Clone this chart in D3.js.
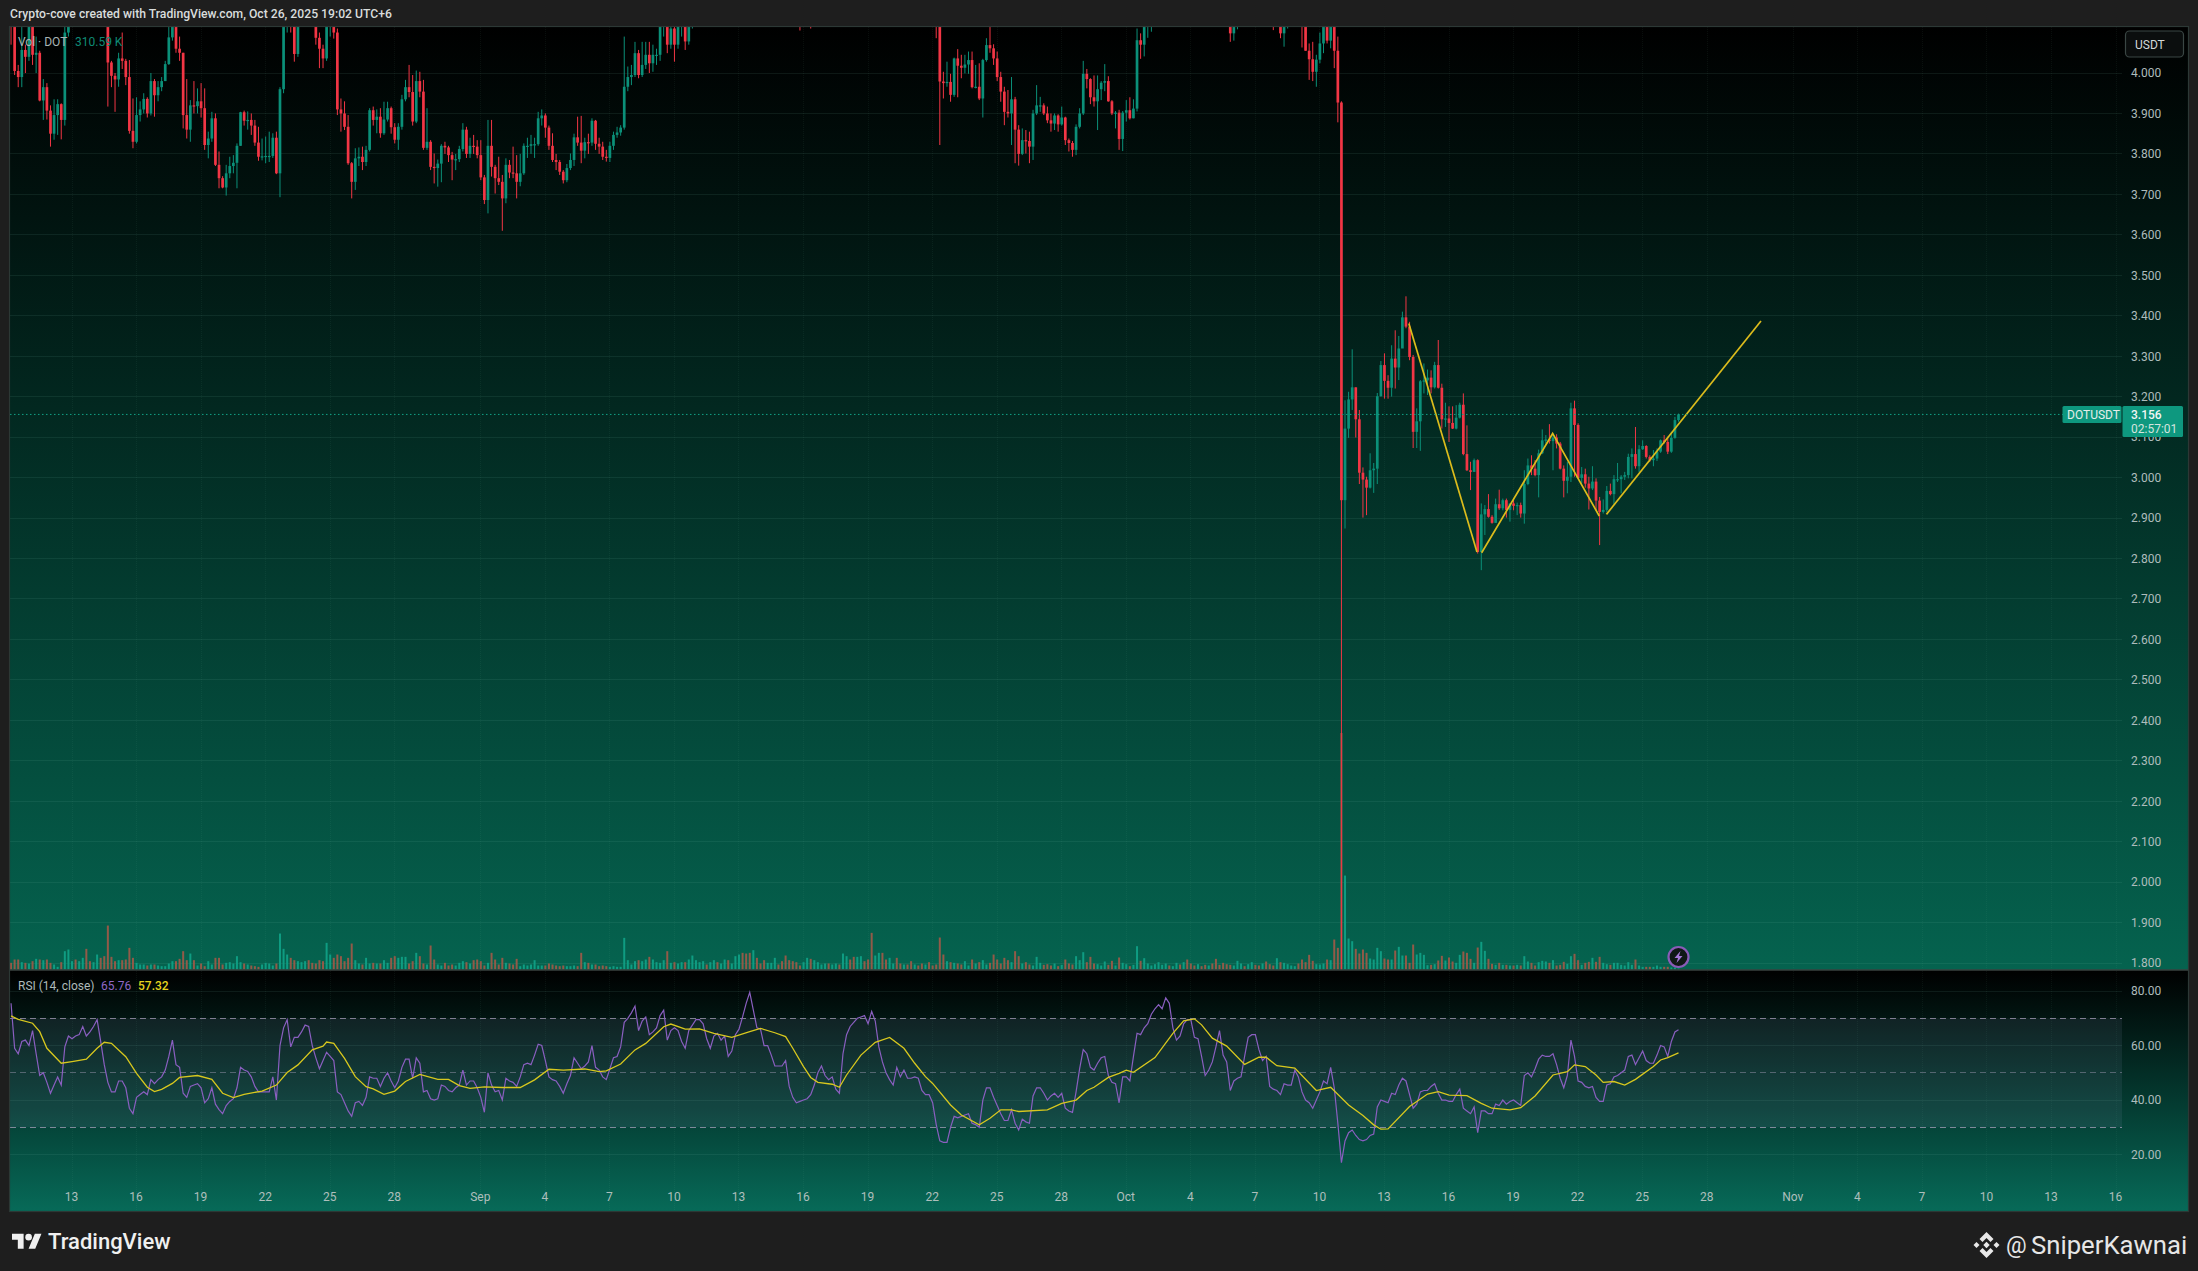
<!DOCTYPE html>
<html><head><meta charset="utf-8">
<script src="https://cdn.jsdelivr.net/npm/d3@7/dist/d3.min.js"></script>
<style>html,body{margin:0;padding:0;background:#1e1e1e;overflow:hidden}svg{display:block}text{font-family:Roboto,"Liberation Sans",sans-serif}</style>
</head><body><svg id="c" width="2198" height="1271"></svg>
<script>
// ---------- DATA ----------
const firstBar = "2025-08-10T06:00:00Z";
const barHours = 4;
const firstOpen = 4.14;
const closes = [
4.13,4.005,3.99,4.057,4.04,4.115,4.045,4.05,3.932,3.965,
3.907,3.85,3.896,3.923,3.884,4.10,4.16,4.19,4.17,4.21,
4.24,4.22,4.19,4.23,4.26,4.2,4.16,4.026,3.993,3.984,
4.036,4.03,3.99,3.857,3.83,3.896,3.91,3.936,3.90,3.98,
3.945,3.965,3.98,4.022,4.088,4.12,4.06,4.05,3.896,3.86,
3.92,3.918,3.93,3.913,3.822,3.838,3.888,3.773,3.74,3.717,
3.752,3.77,3.778,3.82,3.903,3.882,3.884,3.87,3.828,3.793,
3.794,3.795,3.795,3.84,3.752,3.96,4.115,4.14,4.13,4.047,
4.13,4.17,4.2,4.18,4.16,4.087,4.06,4.036,4.115,4.13,
4.10,3.91,3.9,3.867,3.777,3.731,3.789,3.793,3.78,3.81,
3.908,3.884,3.892,3.851,3.885,3.913,3.866,3.835,3.867,3.935,
3.965,3.953,3.88,3.98,3.954,3.815,3.83,3.768,3.765,3.776,
3.82,3.816,3.797,3.786,3.787,3.812,3.86,3.80,3.82,3.818,
3.797,3.742,3.686,3.82,3.768,3.74,3.731,3.69,3.773,3.754,
3.752,3.731,3.752,3.82,3.82,3.824,3.824,3.888,3.895,3.865,
3.82,3.785,3.78,3.756,3.735,3.765,3.785,3.841,3.828,3.808,
3.829,3.828,3.882,3.825,3.818,3.793,3.79,3.82,3.847,3.853,
3.865,3.966,3.99,3.995,4.049,3.995,4.02,4.045,4.024,4.045,
4.045,4.115,4.14,4.07,4.11,4.07,4.13,4.14,4.078,4.125,
4.16,4.19,4.22,4.25,4.23,4.27,4.30,4.28,4.32,4.36,
4.33,4.35,4.38,4.42,4.40,4.37,4.35,4.39,4.36,4.33,
4.30,4.34,4.37,4.4,4.38,4.36,4.32,4.29,4.25,4.2,
4.16,4.18,4.2,4.16,4.2,4.24,4.27,4.3,4.28,4.31,
4.34,4.32,4.36,4.39,4.37,4.34,4.38,4.41,4.39,4.36,
4.33,4.35,4.38,4.35,4.31,4.33,4.36,4.32,4.29,4.31,
4.27,4.24,4.27,4.23,4.2,4.22,4.19,4.17,4.14,3.979,
3.975,3.978,3.946,4.036,4.018,4.013,4.021,4.032,3.965,3.966,
3.937,4.032,4.069,4.061,4.036,3.99,3.954,3.904,3.9,3.935,
3.86,3.80,3.834,3.832,3.818,3.9,3.92,3.92,3.9,3.883,
3.875,3.895,3.873,3.89,3.834,3.827,3.81,3.867,3.9,3.998,
3.985,3.94,3.93,3.96,3.976,3.98,3.93,3.9,3.902,3.837,
3.902,3.908,3.888,3.912,4.081,4.07,4.115,4.16,4.19,4.23,
4.27,4.3,4.34,4.31,4.36,4.39,4.37,4.41,4.38,4.35,
4.31,4.33,4.29,4.26,4.28,4.24,4.21,4.18,4.15,4.13,
4.098,4.14,4.18,4.22,4.2,4.24,4.27,4.25,4.22,4.24,
4.2,4.17,4.15,4.17,4.098,4.14,4.17,4.2,4.21,4.18,
4.12,4.055,4.034,4.003,4.033,4.073,4.115,4.08,4.115,4.055,
3.927,2.944,3.121,3.193,3.223,3.144,3.012,2.995,2.975,3.018,
3.022,3.201,3.278,3.239,3.222,3.294,3.272,3.319,3.396,3.373,
3.298,3.113,3.139,3.238,3.24,3.247,3.223,3.278,3.222,3.144,
3.146,3.135,3.121,3.148,3.18,3.058,3.018,3.014,3.043,2.816,
2.909,2.922,2.903,2.888,2.934,2.924,2.944,2.92,2.936,2.93,
2.932,2.911,2.984,3.03,3.022,3.006,3.06,3.092,3.094,3.09,
3.099,3.084,3.022,2.992,3.002,3.171,3.13,2.999,3.008,2.985,
2.973,2.99,2.943,2.915,2.92,2.967,2.959,2.996,2.996,3.002,
3.006,3.051,3.058,3.028,3.07,3.078,3.051,3.043,3.047,3.064,
3.092,3.088,3.064,3.098,3.142,3.156];
const highs = [
4.17,4.12,4.02,4.12,4.07,4.14,4.12,4.09,4.055,3.985,
3.975,3.92,3.935,3.935,3.925,4.12,4.2,4.22,4.23,4.25,
4.28,4.27,4.25,4.26,4.3,4.27,4.22,4.16,4.03,4.0,
4.05,4.10,4.035,4.032,3.937,3.94,3.93,3.95,3.94,4.0,
3.985,3.98,3.99,4.03,4.12,4.15,4.13,4.09,4.05,3.985,
3.933,3.98,3.962,3.975,3.962,3.855,3.904,3.9,3.806,3.745,
3.773,3.793,3.797,3.826,3.904,3.907,3.905,3.9,3.884,3.867,
3.838,3.843,3.855,3.851,3.855,3.965,4.14,4.2,4.19,4.14,
4.16,4.2,4.24,4.23,4.2,4.18,4.1,4.07,4.13,4.16,
4.14,4.11,3.937,3.93,3.896,3.78,3.814,3.816,3.818,3.82,
3.913,3.917,3.91,3.913,3.929,3.929,3.917,3.876,3.876,3.946,
3.983,4.02,3.995,4.006,4.003,3.983,3.913,3.834,3.801,3.786,
3.824,3.83,3.82,3.805,3.8,3.82,3.876,3.867,3.84,3.847,
3.834,3.834,3.748,3.884,3.884,3.773,3.793,3.748,3.789,3.785,
3.818,3.797,3.8,3.826,3.84,3.847,3.84,3.904,3.91,3.9,
3.87,3.851,3.8,3.785,3.76,3.775,3.801,3.85,3.892,3.894,
3.84,3.85,3.888,3.884,3.84,3.83,3.81,3.83,3.855,3.867,
3.871,4.09,4.016,4.02,4.077,4.057,4.077,4.077,4.077,4.07,
4.06,4.15,4.19,4.16,4.14,4.13,4.16,4.18,4.15,4.15,
4.2,4.22,4.25,4.27,4.26,4.29,4.33,4.31,4.35,4.38,
4.37,4.38,4.4,4.45,4.44,4.41,4.38,4.41,4.4,4.37,
4.34,4.36,4.39,4.42,4.41,4.39,4.37,4.33,4.3,4.26,
4.22,4.21,4.23,4.22,4.23,4.26,4.3,4.32,4.31,4.33,
4.36,4.35,4.38,4.41,4.4,4.38,4.4,4.43,4.42,4.4,
4.37,4.37,4.4,4.39,4.36,4.35,4.38,4.37,4.33,4.33,
4.32,4.28,4.29,4.28,4.25,4.24,4.24,4.21,4.19,4.15,
4.003,4.028,3.998,4.038,4.059,4.045,4.045,4.053,4.053,4.02,
4.024,4.035,4.086,4.14,4.071,4.053,4.003,3.966,3.958,3.99,
3.941,3.871,3.863,3.859,3.855,3.909,3.97,3.941,3.925,3.917,
3.9,3.9,3.898,3.917,3.892,3.838,3.832,3.873,3.913,4.03,
4.01,3.987,3.994,3.994,3.98,4.022,3.992,3.933,3.906,3.909,
3.906,3.933,3.94,3.935,4.11,4.098,4.14,4.2,4.23,4.25,
4.3,4.33,4.37,4.36,4.38,4.42,4.41,4.44,4.42,4.4,
4.37,4.35,4.34,4.31,4.3,4.3,4.26,4.23,4.2,4.17,
4.14,4.18,4.21,4.25,4.25,4.27,4.3,4.29,4.28,4.27,
4.26,4.22,4.19,4.2,4.19,4.17,4.2,4.23,4.25,4.23,
4.19,4.13,4.073,4.077,4.045,4.1,4.14,4.13,4.14,4.13,
4.09,3.93,3.191,3.212,3.317,3.223,3.167,3.025,3.002,3.06,
3.036,3.209,3.288,3.307,3.253,3.327,3.364,3.35,3.41,3.448,
3.385,3.303,3.171,3.241,3.282,3.267,3.265,3.286,3.34,3.232,
3.185,3.176,3.176,3.179,3.185,3.208,3.129,3.039,3.047,3.045,
2.936,2.932,2.959,2.907,2.948,2.97,2.948,2.948,2.936,2.948,
2.938,2.938,3.018,3.047,3.055,3.043,3.069,3.119,3.105,3.132,
3.109,3.107,3.088,3.03,3.039,3.185,3.19,3.134,3.026,3.022,
3.002,3.028,2.998,2.952,2.946,2.979,2.985,3.006,3.036,3.006,
3.014,3.059,3.072,3.125,3.08,3.092,3.08,3.055,3.068,3.072,
3.094,3.105,3.101,3.113,3.15,3.158];
const lows = [
4.07,3.995,3.965,3.965,4.0,4.03,4.02,4.0,3.93,3.884,
3.885,3.818,3.835,3.847,3.836,3.87,4.09,4.14,4.13,4.15,
4.18,4.17,4.14,4.15,4.2,4.16,4.13,3.917,3.965,3.904,
3.966,4.01,3.97,3.85,3.814,3.826,3.88,3.9,3.89,3.895,
3.892,3.93,3.955,3.98,4.02,4.08,4.05,4.03,3.863,3.838,
3.83,3.9,3.9,3.89,3.81,3.789,3.83,3.77,3.715,3.715,
3.697,3.74,3.752,3.715,3.82,3.87,3.86,3.847,3.82,3.783,
3.784,3.777,3.78,3.79,3.75,3.693,3.95,4.1,4.1,4.028,
4.04,4.12,4.15,4.14,4.12,4.07,4.012,4.012,4.03,4.09,
4.085,3.896,3.855,3.859,3.773,3.69,3.711,3.77,3.76,3.77,
3.806,3.87,3.851,3.84,3.847,3.88,3.85,3.826,3.81,3.86,
3.93,3.94,3.87,3.876,3.94,3.81,3.81,3.76,3.727,3.719,
3.73,3.8,3.78,3.735,3.76,3.78,3.806,3.79,3.79,3.8,
3.789,3.735,3.676,3.653,3.744,3.702,3.723,3.61,3.678,3.74,
3.74,3.69,3.72,3.748,3.79,3.8,3.79,3.82,3.87,3.84,
3.81,3.78,3.76,3.748,3.727,3.73,3.76,3.77,3.82,3.777,
3.789,3.8,3.82,3.81,3.8,3.785,3.781,3.78,3.81,3.84,
3.845,3.86,3.955,3.97,3.99,3.987,3.99,4.01,4.0,4.003,
4.02,4.03,4.09,4.049,4.06,4.028,4.06,4.09,4.057,4.07,
4.11,4.14,4.17,4.2,4.21,4.22,4.26,4.26,4.27,4.31,
4.31,4.32,4.33,4.37,4.38,4.35,4.33,4.34,4.34,4.31,
4.27,4.29,4.33,4.36,4.36,4.33,4.3,4.26,4.22,4.17,
4.105,4.14,4.16,4.11,4.15,4.19,4.23,4.26,4.26,4.27,
4.3,4.3,4.31,4.35,4.35,4.32,4.33,4.37,4.37,4.34,
4.31,4.32,4.34,4.33,4.29,4.3,4.32,4.3,4.27,4.28,
4.25,4.22,4.23,4.2,4.18,4.19,4.17,4.15,4.086,3.822,
3.937,3.966,3.929,3.941,3.94,3.987,3.999,3.998,3.962,3.962,
3.933,3.89,4.028,4.05,4.02,3.98,3.929,3.871,3.89,3.822,
3.777,3.771,3.797,3.801,3.777,3.785,3.896,3.904,3.896,3.876,
3.855,3.859,3.855,3.87,3.822,3.806,3.793,3.797,3.863,3.896,
3.962,3.923,3.917,3.859,3.933,3.955,3.929,3.896,3.863,3.81,
3.807,3.88,3.885,3.888,3.905,4.035,4.041,4.087,4.102,4.17,
4.22,4.26,4.29,4.29,4.3,4.35,4.35,4.36,4.35,4.33,
4.29,4.29,4.26,4.24,4.24,4.2,4.18,4.15,4.13,4.12,
4.077,4.08,4.108,4.16,4.17,4.19,4.23,4.22,4.2,4.2,
4.18,4.15,4.106,4.13,4.086,4.065,4.11,4.15,4.17,4.15,
4.063,4.055,3.983,3.98,3.966,4.024,4.049,4.073,4.061,4.012,
3.878,1.3,2.874,3.098,3.167,3.099,2.984,2.901,2.907,2.973,
2.962,2.984,3.2,3.195,3.195,3.2,3.22,3.241,3.364,3.369,
3.29,3.073,3.073,3.066,3.208,3.204,3.208,3.22,3.22,3.121,
3.125,3.088,3.12,3.119,3.146,3.055,3.016,2.969,3.014,2.812,
2.771,2.858,2.901,2.886,2.888,2.92,2.919,2.901,2.891,2.919,
2.907,2.901,2.886,2.981,3.006,3.003,2.951,3.058,3.084,3.084,
3.018,3.072,3.02,2.951,2.961,2.989,3.002,2.998,2.985,2.975,
2.921,2.969,2.919,2.833,2.911,2.915,2.956,2.934,2.989,2.961,
2.994,2.998,2.998,3.022,3.014,3.068,3.047,3.039,3.028,3.041,
3.061,3.084,3.058,3.061,3.096,3.138];
// volume, in units of 100K
const volumes = [
20,30,30,22,20,18,25,32,30,28,
30,20,15,8,22,55,60,25,30,25,
35,62,25,22,45,35,40,132,38,25,
28,28,30,65,35,20,15,15,12,15,
15,12,10,10,18,25,25,32,55,28,
48,28,12,18,10,25,15,35,35,15,
20,22,18,40,22,18,15,12,10,8,
15,20,18,12,18,108,62,45,35,28,
25,22,25,28,20,18,28,25,80,45,
35,45,40,25,35,78,28,18,15,35,
18,20,18,18,28,20,35,40,35,38,
38,18,25,50,40,18,15,72,30,15,
12,20,12,15,12,20,25,22,18,28,
30,25,12,20,50,30,15,35,20,18,
15,32,10,15,12,15,28,12,12,12,
18,15,12,10,12,10,10,12,10,50,
22,20,15,15,10,12,10,8,10,8,
8,95,28,15,25,28,25,30,38,30,
22,20,28,55,20,22,18,22,22,30,
42,28,22,25,15,22,28,22,18,30,
28,18,40,45,50,48,50,58,35,18,
28,20,20,35,15,25,42,28,25,22,
12,22,35,32,28,22,15,18,18,15,
18,15,48,40,30,38,38,40,25,30,
110,42,50,50,30,35,18,35,18,15,
15,25,15,12,18,15,22,12,15,96,
45,25,22,20,18,15,25,12,30,18,
22,28,15,20,45,30,18,35,28,22,
55,40,18,22,15,12,38,20,14,16,
12,18,10,14,30,18,15,40,28,52,
22,38,18,16,12,24,14,26,12,36,
20,16,10,14,70,26,34,18,12,16,
22,14,18,12,10,20,15,22,30,18,
12,16,10,14,12,18,32,14,20,16,
14,12,26,18,10,16,22,14,12,18,
24,16,12,34,22,20,16,12,10,18,
30,22,44,26,16,15,18,30,28,90,
65,710,282,93,85,62,48,60,50,33,
30,65,55,33,30,30,57,68,42,42,
20,75,45,50,44,13,14,16,27,41,
27,36,24,20,44,54,50,32,20,66,
83,56,32,17,14,20,14,14,12,12,
14,12,40,24,20,12,22,26,24,20,
28,12,14,23,17,40,47,28,14,20,
23,35,23,38,20,16,14,20,20,14,
12,22,14,30,12,8,8,8,8,12,
8,8,8,6,6,3];
const rsiValues = [
75.5,59,57,61.5,62,60,65.5,57,49,50,
46.5,42.5,45.5,48.5,45.5,59.5,63.5,62.5,63.5,64,
67,63.5,65,67,69.5,61.5,53,46.5,43,43,
47,47,44.5,37,35,41,42,43,42,47.5,
46,47.5,48.5,51,56,62,53,52,42.5,41,
45,45.5,46,44.5,39,40.5,44.5,38.5,36.5,35,
38,39.5,40.5,44.5,52,51,50.5,48.5,45,43,
43,43,43,48.5,40,60,66.5,69.5,59.5,63,
63,65,67.5,67,60,55.5,51.5,54.5,57.5,56,
54.5,43,42,39,36,34,39,39.5,38,41,
48.5,48,48,45,48,50,47,44.5,47,52,
55,55,48,55.5,53.5,43,43.5,40.5,40,40.5,
45.5,45,43.5,43,44.5,45.5,51,45.5,47,47,
44.5,41,35.5,50,45.5,43,43.5,40,48,47,
46.5,45,48.5,53,53.5,53,56.5,60.5,60,54.5,
48.5,47.5,47,45,42.5,46,49,55.5,53.5,51.5,
52.5,54,60,52,51,48.5,47.5,51.5,55.5,56,
59.5,68.5,70,72,74.5,65.5,69,70.5,64,65,
66.5,71,73,62,65.5,66.5,65.5,61.5,59,65.5,
67.5,69.5,69.5,68,62.5,59,63.5,64.5,62,63.5,
56,58,64,66,70.5,75.5,79.5,73,66.5,66,
60,60,56.5,52.5,52.5,52.5,54.5,45,41,39,
39.5,40,40.5,42,45.5,50,52.5,49,47.5,48.5,
44,42.5,57,64,67,68.5,70,70.5,71,68,
72.5,69,59.5,54,50,47.5,45.5,52,48.5,51,
48,48,48.5,48,43.5,42,42,39,31,25,
24.5,24.5,30,34,33.5,34,34.5,35,31.5,31,
30,40,44.5,44.5,41,38,35,32.5,32.5,36.5,
31.5,29,33,32,31.5,41.5,44.5,44.5,42.5,40,
41.5,42.5,41,42.5,37,36,35.5,43,51.5,58.5,
57,52,51,53.5,55.5,56,49,46.5,46,39,
48.5,48.5,47,56,64.5,64,66.5,68,71.5,73.5,
75,73.5,77.5,75.5,66.5,62,63.5,68,69.5,69.5,
63,62.5,56,49,51,54,59.5,65.5,56.5,54,
43.5,47,48,48.5,56,63,64,64,58.5,54.5,
56,45,44,43.5,42,46,45.5,45.5,51,48.5,
43,40,39,37,40,43,47,46,52,44.5,
31.5,17,25,28,29,27,25.5,25,25.5,27,
27.5,37.5,40,39.5,39,42.5,42,45.5,48,47,
42,37,38.5,43,43.5,43.5,45,46,42.5,40,
40,39.5,39.5,42,44,37,36,35,37.5,28,
36,36,35,35,38.5,38,40,38.5,39.5,40,
39,38,49,50,48.5,51.5,55,56.5,56,56,
57,53,48,44.5,49,62,56,47,46.5,45,
44.5,45,41,39.5,39.5,45.5,46,48.5,49,50,
51,56,56.5,53,55.5,58,54.5,53.5,53.5,56.5,
60,59.5,56,61.5,65,65.76];
const rsiMaBars = [0,2,6,8,10,14,17,21,24,26,28,32,35,38,40,42,45,47,52,56,59,62,65,70,74,77,80,84,87,88,90,93,96,99,101,104,107,110,114,119,122,125,128,132,137,142,146,150,154,160,164,166,170,174,177,182,184,188,192,196,201,206,209,213,216,218,221,223,225,229,231,233,237,241,245,249,252,255,257,262,265,270,273,276,279,281,289,293,297,300,302,306,309,311,313,319,324,327,330,332,335,339,344,348,350,353,358,364,368,373,377,380,382,384,390,395,398,401,406,410,413,418,421,425,430,434,436,439,442,444,447,450,453,458,460,462,465];
const rsiMaValues = [70.9,69.6,68.2,65.1,59,53.5,54.1,55,59,61.2,60.8,55.9,49.8,44.7,43.1,43.9,46.1,48.3,49,47.6,42.5,40.9,42.1,43.3,45.5,50.1,52.9,58.4,59.8,61.3,60.8,55.3,48.6,44.9,44.1,42.1,43.3,46.8,49.4,47.6,47.6,45.3,44.3,44.8,44.6,44.6,47.4,51.3,51,51.4,50.4,50.7,53.2,58.4,60.8,66.9,67.9,66,66.1,64.5,63,65.1,66.3,64.7,63.3,59,52.3,48.3,46.5,45.8,44.7,49.2,56.5,61.2,63,59,53.5,48.6,46.1,38.2,34.5,30.9,33.3,36.4,36.4,35.8,36.4,38.8,40,43.5,44.7,48.3,49.8,51,50.2,55.6,64.5,69.1,69.8,67.6,62.7,59.8,53.1,55.7,55.7,52.6,51.7,43.5,44.7,38.2,34.3,30.9,29.3,29.4,37.6,42.2,43.1,41.8,41.6,38.8,37,36.4,37.2,41.5,49.2,50.4,52.9,52.3,49.2,46.5,46.8,45.5,47.6,52.3,54.7,55.6,57.32];
const drawingBars = [[389.8,408.8],[410.1,429.9,442.9],[444.9,488]];
const drawingPrices = [[3.381,2.816],[2.814,3.109,2.905],[2.909,3.387]];
const priceTicks = [1.8,1.9,2.0,2.1,2.2,2.3,2.4,2.5,2.6,2.7,2.8,2.9,3.0,3.1,3.2,3.3,3.4,3.5,3.6,3.7,3.8,3.9,4.0];
const rsiTicks = [20,40,60,80];
const rsiLevels = [70,50,30];
const timeLabels = ["13","16","19","22","25","28","Sep","4","7","10","13","16","19","22","25","28","Oct","4","7","10","13","16","19","22","25","28","Nov","4","7","10","13","16"];
const timeDates = ["08-13","08-16","08-19","08-22","08-25","08-28","09-01","09-04","09-07","09-10","09-13","09-16","09-19","09-22","09-25","09-28","10-01","10-04","10-07","10-10","10-13","10-16","10-19","10-22","10-25","10-28","11-01","11-04","11-07","11-10","11-13","11-16"];
const lastPrice = 3.156;
const headerText = "Crypto-cove created with TradingView.com, Oct 26, 2025 19:02 UTC+6";

// ---------- LAYOUT ----------
const W=2198,H=1271,L=10,R=2188,PR=2122,T=27,PB=970,RB=1211;
const UP="#0b9079",DOWN="#f23645";
const svg=d3.select("#c");
const defs=svg.append("defs");
function grad(id,stops){const g=defs.append("linearGradient").attr("id",id).attr("x1",0).attr("x2",0).attr("y1",0).attr("y2",1);
 stops.forEach(s=>g.append("stop").attr("offset",s[0]).attr("stop-color",s[1]));}
grad("g1",[[0,"#000000"],[1,"#05634f"]]);
grad("g2",[[0,"#000000"],[1,"#076a58"]]);
defs.append("clipPath").attr("id","cp1").append("rect").attr("x",L).attr("y",T).attr("width",PR-L).attr("height",PB-T);
defs.append("clipPath").attr("id","cp2").append("rect").attr("x",L).attr("y",PB).attr("width",PR-L).attr("height",RB-PB);

svg.append("rect").attr("width",W).attr("height",H).attr("fill","#1e1e1e");
svg.append("rect").attr("x",L).attr("y",T).attr("width",R-L).attr("height",PB-T).attr("fill","url(#g1)");
svg.append("rect").attr("x",L).attr("y",PB).attr("width",R-L).attr("height",RB-PB).attr("fill","url(#g2)");

// ---------- SCALES ----------
const hour=36e5, t0=Date.parse(firstBar);
const barTime=i=>new Date(t0+i*barHours*hour);
const x=d3.scaleUtc().domain([Date.UTC(2025,7,13,2),Date.UTC(2025,10,16,2)]).range([72,2116]);
const y=d3.scaleLinear().domain([1.8,4.0]).range([963,73]);
const ry=d3.scaleLinear().domain([30,70]).range([1127.3,1018.3]);
const vy=d3.scaleLinear().domain([0,710]).range([PB-0.5,733]);
const tickTimes=timeDates.map(d=>{const [m,dd]=d.split("-").map(Number);return new Date(Date.UTC(2025,m-1,dd,2));});
const opens=closes.map((c,i)=>i?closes[i-1]:firstOpen);

// ---------- GRID ----------
const grid=svg.append("g").attr("stroke","#7fc4b0").attr("stroke-opacity",.1).attr("stroke-width",1).attr("shape-rendering","crispEdges");
grid.selectAll(".hg").data(priceTicks).join("line").attr("x1",L).attr("x2",PR).attr("y1",d=>y(d)).attr("y2",d=>y(d));
grid.selectAll(".rg").data(rsiTicks).join("line").attr("class","rg").attr("x1",L).attr("x2",PR).attr("y1",d=>ry(d)).attr("y2",d=>ry(d));
svg.append("g").attr("stroke","#7fc4b0").attr("stroke-opacity",.07).attr("stroke-dasharray","1 1").attr("shape-rendering","crispEdges")
 .selectAll("line").data(tickTimes).join("line").attr("x1",d=>x(d)).attr("x2",d=>x(d)).attr("y1",T).attr("y2",RB);

// ---------- RSI BAND ----------
svg.append("rect").attr("x",L).attr("width",PR-L).attr("y",ry(70)).attr("height",ry(30)-ry(70)).attr("fill","#a0a0cc").attr("fill-opacity",.1);
svg.append("g").attr("stroke","#a79fb8").attr("stroke-dasharray","6 4").attr("stroke-width",1).attr("shape-rendering","crispEdges")
 .selectAll("line").data(rsiLevels).join("line").attr("x1",L).attr("x2",PR).attr("y1",d=>ry(d)).attr("y2",d=>ry(d)).attr("stroke-opacity",d=>d===50?.45:.75);

// ---------- VOLUME + CANDLES ----------
const pane=svg.append("g").attr("clip-path","url(#cp1)");
pane.append("g").selectAll("rect").data(volumes).join("rect")
 .attr("x",(d,i)=>x(barTime(i))-1).attr("width",2).attr("y",d=>vy(d)).attr("height",d=>vy(0)-vy(d))
 .attr("fill",(d,i)=>closes[i]>=opens[i]?"#0f9c82":"#925a48");
const candle=pane.append("g").selectAll("g").data(closes).join("g");
candle.append("line").attr("x1",(d,i)=>x(barTime(i))).attr("x2",(d,i)=>x(barTime(i)))
 .attr("y1",(d,i)=>y(highs[i])).attr("y2",(d,i)=>y(lows[i])).attr("stroke-width",1)
 .attr("stroke",(d,i)=>closes[i]>=opens[i]?UP:DOWN);
candle.append("rect").attr("x",(d,i)=>x(barTime(i))-1.35).attr("width",2.7)
 .attr("y",(d,i)=>y(Math.max(opens[i],closes[i])))
 .attr("height",(d,i)=>Math.max(1.2,Math.abs(y(opens[i])-y(closes[i]))))
 .attr("fill",(d,i)=>closes[i]>=opens[i]?UP:DOWN);

// last price line
svg.append("line").attr("x1",L).attr("x2",PR).attr("y1",y(lastPrice)).attr("y2",y(lastPrice))
 .attr("stroke","#12a085").attr("stroke-width",1).attr("stroke-dasharray","1.5 2.5");

// drawn pattern
const dl=d3.line().x(d=>x(barTime(d[0]))).y(d=>y(d[1]));
pane.append("g").selectAll("path").data(drawingBars).join("path")
 .attr("d",(b,k)=>dl(b.map((v,j)=>[v,drawingPrices[k][j]])))
 .attr("fill","none").attr("stroke","#dcbc1c").attr("stroke-width",1.7);

// ---------- RSI LINES ----------
const rp=svg.append("g").attr("clip-path","url(#cp2)");
rp.append("path").attr("d",d3.line().x((d,i)=>x(barTime(i))).y(d=>ry(d))(rsiValues))
 .attr("fill","none").attr("stroke","#8a5fc0").attr("stroke-width",1.2);
rp.append("path").attr("d",d3.line().x(d=>x(barTime(d))).y((d,i)=>ry(rsiMaValues[i]))(rsiMaBars))
 .attr("fill","none").attr("stroke","#d8c81e").attr("stroke-width",1.3);

// ---------- AXES ----------
function styleAxis(g,fill){g.select(".domain").remove();g.selectAll(".tick line").remove();
 g.selectAll("text").attr("fill",fill).attr("font-size",12).attr("font-family","Roboto,sans-serif");}
svg.append("g").attr("transform",`translate(${PR+9},0)`)
 .call(d3.axisRight(y).tickValues(priceTicks).tickFormat(d3.format(".3f")).tickSize(0).tickPadding(0))
 .call(g=>styleAxis(g,"#aebcbc"));
svg.append("g").attr("transform",`translate(${PR+9},0)`)
 .call(d3.axisRight(ry).tickValues(rsiTicks).tickFormat(d3.format(".2f")).tickSize(0).tickPadding(0))
 .call(g=>styleAxis(g,"#aebcbc"));
svg.append("g").attr("transform","translate(-1,1192)")
 .call(d3.axisBottom(x).tickValues(tickTimes).tickFormat((d,i)=>timeLabels[i]).tickSize(0).tickPadding(0))
 .call(g=>styleAxis(g,"#aebfbc"));

// ---------- FRAME ----------
svg.append("rect").attr("x",L-.5).attr("y",T-.5).attr("width",R-L+1).attr("height",RB-T+1).attr("fill","none").attr("stroke","#2c3835").attr("stroke-width",1.2);
svg.append("line").attr("x1",L).attr("x2",R).attr("y1",PB).attr("y2",PB).attr("stroke","#39423f").attr("stroke-width",1.5);

// ---------- LEGENDS + LABELS ----------
function txt(s,xx,yy,fill,size,weight,anchor){return svg.append("text").attr("x",xx).attr("y",yy).attr("fill",fill).attr("font-size",size)
 .attr("font-weight",weight||400).attr("text-anchor",anchor||"start").attr("dominant-baseline","central").text(s);}
txt(headerText,10,14,"#d8dcdc",12.2,500);
txt("Vol · DOT",18,42,"#a9b4b4",12);
txt("310.59 K",75,42,"#0f8a75",12);
txt("RSI (14, close)",18,986,"#aebaba",12);
txt("65.76",101,986,"#8f68c8",12);
txt("57.32",138,986,"#e8d41e",12,500);

// USDT box
svg.append("rect").attr("x",2125.5).attr("y",31).attr("width",58).attr("height",26).attr("rx",4).attr("fill","#0b0e0e").attr("stroke","#3a4644").attr("stroke-width",1.2);
txt("USDT",2135,44.5,"#d4d8d8",12);

// price tag
svg.append("rect").attr("x",2062.5).attr("y",406).attr("width",59).attr("height",17).attr("rx",1.5).attr("fill","#0e987f");
svg.append("rect").attr("x",2122.5).attr("y",406).attr("width",60.5).attr("height",31).attr("rx",1.5).attr("fill","#0e987f");
txt("DOTUSDT",2067,415,"#e4eeea",12);
txt("3.156",2131,414.5,"#f2f6f4",12,500);
txt("02:57:01",2131,428.5,"#d4e4de",12);

// Lightning badge
const cur=x(barTime(465));
svg.append("circle").attr("cx",cur).attr("cy",957).attr("r",10).attr("fill","#101816").attr("stroke","#8a5bb8").attr("stroke-width",2.2);
svg.append("path").attr("transform",`translate(${cur},957)`).attr("d","M2 -6 L-4 1 L-0.5 1 L-2 6 L4 -1 L0.5 -1 Z").attr("fill","#a678d8");

// TradingView logo
svg.append("g").attr("transform","translate(12,1230.5) scale(.83)").attr("fill","#f0f0f0").call(g=>{
 g.append("path").attr("d","M14 22H7V11H0V4h14v18zM28 22h-8l7.5-18h8L28 22z");
 g.append("circle").attr("cx",20).attr("cy",8).attr("r",4);});
txt("TradingView",48,1241,"#f0f0f0",22,500);

// Author watermark
svg.append("g").attr("transform","translate(1986.5,1245)").attr("fill","#e8e8e8").call(g=>{
 g.append("path").attr("d","M0 -13 L7 -6 L4 -3 L0 -7 L-4 -3 L-7 -6 Z");
 g.append("path").attr("d","M0 13 L7 6 L4 3 L0 7 L-4 3 L-7 6 Z");
 g.append("path").attr("d","M0 -3.2 L3.2 0 L0 3.2 L-3.2 0 Z");
 g.append("path").attr("d","M-10 -3 L-7 0 L-10 3 L-13 0 Z");
 g.append("path").attr("d","M10 -3 L13 0 L10 3 L7 0 Z");
});
txt("@",2006,1245,"#e6e6e6",23);
txt("SniperKawnai",2031,1245,"#e6e6e6",25.7);
</script></body></html>
